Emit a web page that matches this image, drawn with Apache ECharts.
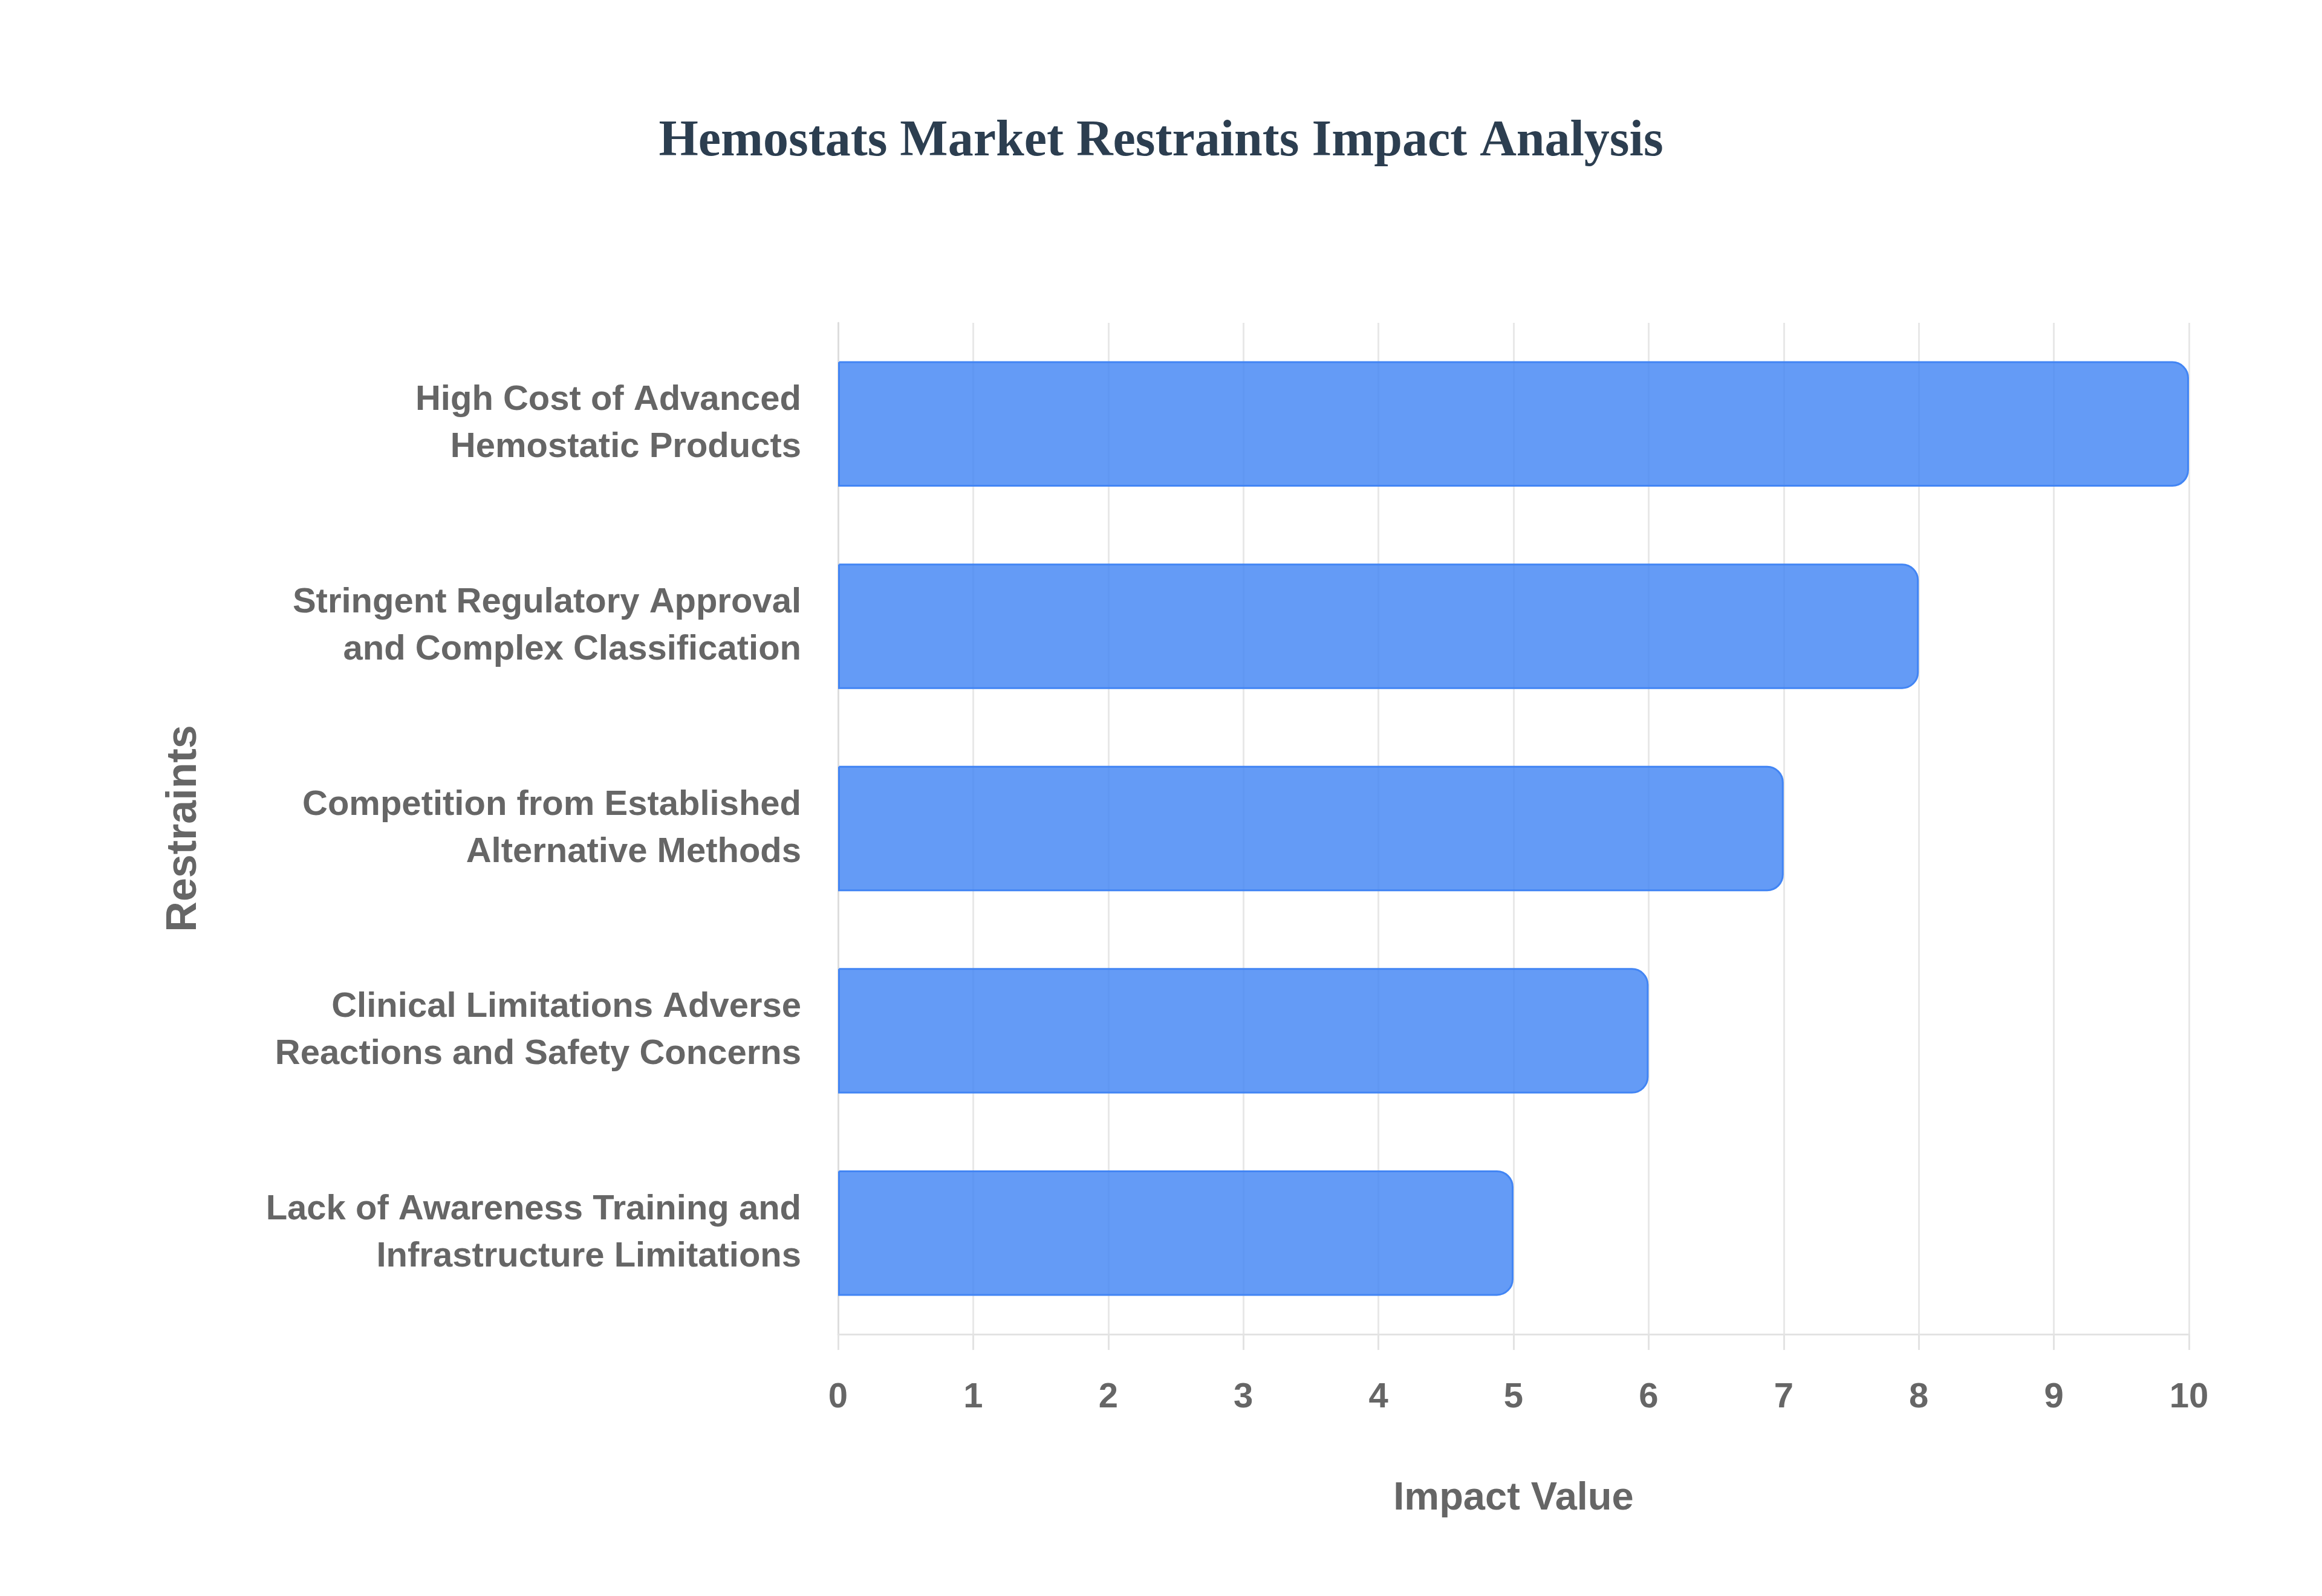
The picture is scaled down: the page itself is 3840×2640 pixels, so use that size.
<!DOCTYPE html>
<html>
<head>
<meta charset="utf-8">
<script src="https://cdn.jsdelivr.net/npm/echarts@6/dist/echarts.min.js"></script>
<style>
html,body{margin:0;padding:0;background:#fff;}
#chart{width:3840px;height:2640px;}
</style>
</head>
<body>
<div id="chart"></div>
<script>
const titleText = 'Hemostats Market Restraints Impact Analysis';
const categories = [
  'Lack of Awareness Training and\nInfrastructure Limitations',
  'Clinical Limitations Adverse\nReactions and Safety Concerns',
  'Competition from Established\nAlternative Methods',
  'Stringent Regulatory Approval\nand Complex Classification',
  'High Cost of Advanced\nHemostatic Products'
];
const impactValues = [5, 6, 7, 8, 10];
const xAxisName = 'Impact Value';
const yAxisName = 'Restraints';

const sans = "Arial, 'Liberation Sans', Helvetica, sans-serif";
const chart = echarts.init(document.getElementById('chart'));
chart.setOption({
  backgroundColor: '#ffffff',
  animation: false,
  title: {
    text: titleText,
    left: 'center',
    top: 188,
    textStyle: {
      fontFamily: "'Times New Roman', 'Liberation Serif', serif",
      fontWeight: 'bold',
      fontSize: 84,
      color: '#2c3e50'
    }
  },
  grid: { left: 1386, right: 220, top: 534, bottom: 433, containLabel: false },
  xAxis: {
    type: 'value',
    min: 0,
    max: 10,
    interval: 1,
    name: xAxisName,
    nameLocation: 'middle',
    nameGap: 240,
    nameTextStyle: { fontFamily: sans, fontWeight: 'bold', fontSize: 65, color: '#666666' },
    axisLine: { show: true, lineStyle: { color: '#e3e3e3', width: 3 } },
    axisTick: { show: true, length: 26, lineStyle: { color: '#e3e3e3', width: 3 } },
    axisLabel: { margin: 76, fontFamily: sans, fontWeight: 'bold', fontSize: 58, color: '#666666' },
    splitLine: { show: true, lineStyle: { color: '#e8e8e8', width: 3 } }
  },
  yAxis: {
    type: 'category',
    data: categories,
    name: yAxisName,
    nameLocation: 'middle',
    nameGap: 1046,
    nameTextStyle: { fontFamily: sans, fontWeight: 'bold', fontSize: 70, color: '#666666' },
    axisLine: { show: true, lineStyle: { color: '#dddddd', width: 3 } },
    axisTick: { show: false },
    axisLabel: { margin: 61, fontFamily: sans, fontWeight: 'bold', fontSize: 58, lineHeight: 78, color: '#666666', align: 'right' },
    splitLine: { show: false }
  },
  series: [{
    type: 'bar',
    data: impactValues,
    barCategoryGap: '38%',
    itemStyle: {
      color: 'rgba(66,133,244,0.82)',
      borderColor: '#4285f4',
      borderWidth: 3,
      borderRadius: [0, 26, 26, 0]
    }
  }]
});
</script>
</body>
</html>
